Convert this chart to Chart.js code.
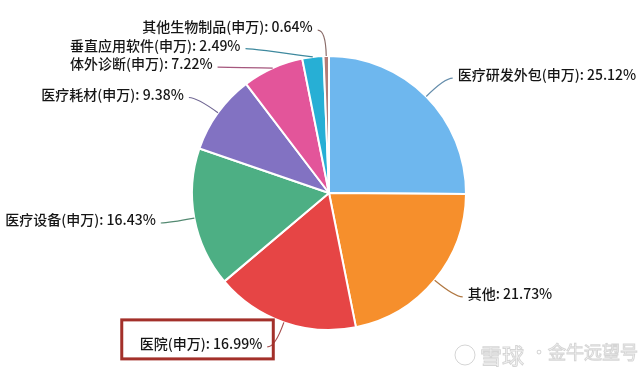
<!DOCTYPE html>
<html lang="zh">
<head>
<meta charset="utf-8">
<title>申万细分行业占比</title>
<script src="https://cdn.jsdelivr.net/npm/chart.js@4.4.0/dist/chart.umd.min.js"></script>
<style>
    html, body { margin: 0; padding: 0; background: #fff; }
    #caja { width: 644px; height: 375px; position: relative; }
</style>
</head>
<body>
<div id="caja"><canvas id="pastel"></canvas></div>
<script>
const categorias = ["医疗研发外包(申万)", "其他", "医院(申万)", "医疗设备(申万)", "医疗耗材(申万)", "体外诊断(申万)", "垂直应用软件(申万)", "其他生物制品(申万)"];
const porcentajes = [25.12, 21.73, 16.99, 16.43, 9.38, 7.22, 2.49, 0.64];
const destacado = "医院(申万)";

const colores = ["#6eb7ee", "#f68f2c", "#e64545", "#4daf84", "#8272c2", "#e3559a", "#27afd5", "#b27b76"];
const fuente = "'Noto Sans CJK SC', 'Noto Sans', sans-serif";

// mezcla un color con gris para las líneas guía
function apagado(hex) {
    const n = parseInt(hex.slice(1), 16);
    const r = (n >> 16) & 255, g = (n >> 8) & 255, b = n & 255;
    const m = (c) => Math.round(c * 0.55 + 90 * 0.45);
    return "rgb(" + m(r) + "," + m(g) + "," + m(b) + ")";
}

const etiquetas = {
    id: "etiquetas",
    afterDatasetsDraw(chart) {
        const ctx = chart.ctx;
        const arcos = chart.getDatasetMeta(0).data;
        if (!arcos.length) return;
        const cx = arcos[0].x, cy = arcos[0].y, r = arcos[0].outerRadius;
        const r1 = r + 26, largo2 = 8, hueco = 5, alto = 18.5;

        const items = arcos.map(function (arco, i) {
            const medio = (arco.startAngle + arco.endAngle) / 2;
            const cos = Math.cos(medio), sin = Math.sin(medio);
            return { i: i, px: cx + cos * r, py: cy + sin * r, y: cy + sin * r1, der: cos >= 0 };
        });

        [true, false].forEach(function (lado) {
            const grupo = items.filter((it) => it.der === lado).sort((a, b) => a.y - b.y);
            for (let k = 1; k < grupo.length; k++) {
                if (grupo[k].y < grupo[k - 1].y + alto) grupo[k].y = grupo[k - 1].y + alto;
            }
        });

        ctx.save();
        ctx.font = "500 14px " + fuente;
        ctx.textBaseline = "middle";
        items.forEach(function (it) {
            const dy = it.y - cy;
            const dx = Math.sqrt(Math.max(0, r1 * r1 - dy * dy));
            const tx = it.der ? cx + dx : cx - dx;
            const ex = it.der ? tx + largo2 : tx - largo2;

            ctx.strokeStyle = apagado(colores[it.i]);
            ctx.lineWidth = 1.2;
            ctx.beginPath();
            ctx.moveTo(it.px, it.py);
            ctx.quadraticCurveTo(tx, it.y, ex, it.y);
            ctx.stroke();

            const texto = categorias[it.i] + ": " + porcentajes[it.i].toFixed(2) + "%";
            const ancho = ctx.measureText(texto).width;
            const x0 = it.der ? ex + hueco : ex - hueco - ancho;
            const ty = it.y - 3;

            if (categorias[it.i] === destacado) {
                ctx.strokeStyle = "#a3302a";
                ctx.lineWidth = 3;
                ctx.strokeRect(x0 - 18, ty - 24, ancho + 29, 39);
            }
            ctx.fillStyle = "#151515";
            ctx.textAlign = "left";
            ctx.fillText(texto, x0, ty);
        });

        // marca de agua
        ctx.globalAlpha = 0.35;
        ctx.strokeStyle = "#888";
        ctx.lineWidth = 1;
        ctx.beginPath();
        ctx.arc(465, 355, 10, 0, Math.PI * 2);
        ctx.stroke();
        ctx.font = "22px " + fuente;
        ctx.strokeText("雪球", 480, 356);
        ctx.font = "18px " + fuente;
        ctx.strokeText("·金牛远望号", 530, 352);
        ctx.restore();
    },
};

new Chart(document.getElementById("pastel"), {
    type: "pie",
    data: {
        labels: categorias,
        datasets: [
            {
                data: porcentajes,
                backgroundColor: colores,
                borderColor: "#fff",
                borderWidth: 2,
            },
        ],
    },
    options: {
        responsive: true,
        maintainAspectRatio: false,
        animation: false,
        layout: { padding: { top: 55, bottom: 44, left: 191, right: 177 } },
        plugins: {
            legend: { display: false },
            tooltip: { enabled: false },
        },
    },
    plugins: [etiquetas],
});
</script>
</body>
</html>
